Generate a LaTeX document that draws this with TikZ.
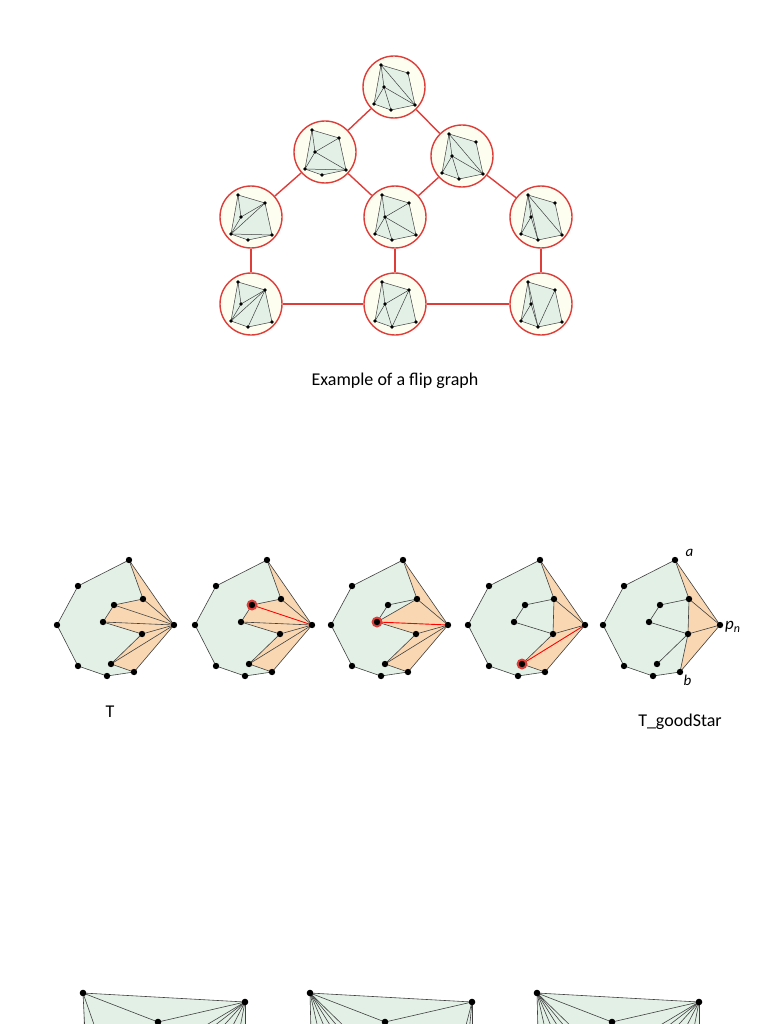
\documentclass[tikz,border=0pt]{standalone}
\usepackage{fontspec}
\setmainfont{Carlito}
\definecolor{gf}{RGB}{226,240,230}
\definecolor{of}{RGB}{248,215,178}
\definecolor{cf}{RGB}{253,253,240}
\definecolor{rl}{RGB}{222,62,58}
\begin{document}
\begin{tikzpicture}[x=1pt,y=-1pt,
  fcirc/.style={circle,draw=rl,fill=cf,line width=1.4pt,minimum size=62pt,inner sep=0pt},
  redline/.style={draw=rl,line width=1.4pt},
  gfill/.style={fill=gf},
  ofill/.style={fill=of},
  edge/.style={draw=black!75,line width=0.6pt},
  lab/.style={font=\fontsize{18}{18}\selectfont}]
\useasboundingbox (0,0) rectangle (768,1024);
\clip (0,0) rectangle (768,1024);
% ---------- flip graph ----------
\node[fcirc] (c1) at (394,87) {};
\node[fcirc] (c2) at (325,152) {};
\node[fcirc] (c3) at (462,156) {};
\node[fcirc] (c4) at (251,217) {};
\node[fcirc] (c5) at (395,217) {};
\node[fcirc] (c6) at (541,217) {};
\node[fcirc] (c7) at (251,304) {};
\node[fcirc] (c8) at (395,304) {};
\node[fcirc] (c9) at (541,304) {};
\foreach \u/\v in {c1/c2,c1/c3,c2/c4,c2/c5,c3/c5,c3/c6,c4/c7,c5/c8,c6/c9,c7/c8,c8/c9}
  \draw[redline] (\u)--(\v);
\newcommand\mytri[3]{%
\begin{scope}[shift={(#1,#2)}]
\coordinate (A) at (-13,-22); \coordinate (B) at (14,-14);
\coordinate (C) at (-10,0); \coordinate (D) at (-20,17);
\coordinate (E) at (-3,23); \coordinate (F) at (21,18);
\fill[gfill] (A)--(B)--(F)--(E)--(D)--cycle;
\draw[edge,line width=0.5pt] (A)--(B)--(F)--(E)--(D)--cycle;
\foreach \p/\q in {#3} \draw[edge,line width=0.5pt] (\p)--(\q);
\foreach \p in {A,B,C,D,E,F} \fill (\p) circle (1.8);
\end{scope}}
\mytri{394}{87}{A/F,C/A,C/F,C/D,C/E}
\mytri{325}{152}{C/A,C/B,C/D,C/F,D/F}
\mytri{462}{156}{A/F,C/A,C/F,C/D,C/E}
\mytri{251}{217}{C/A,C/B,C/D,B/D,D/F}
\mytri{395}{217}{C/A,C/B,C/D,C/E,C/F}
\mytri{541}{217}{A/F,A/E,C/A,C/E,C/D}
\mytri{251}{304}{C/A,C/B,C/D,B/D,B/E}
\mytri{395}{304}{C/A,C/B,C/D,C/E,B/E}
\mytri{541}{304}{A/E,B/E,C/A,C/E,C/D}
\node[lab] (cap1) at (395,381) {Example of a flip graph};
% ---------- row of polygons ----------
\newcommand\ppts{%
\coordinate (pn) at (0,0); \coordinate (a) at (-45,-65);
\coordinate (q1) at (-96,-39); \coordinate (q2) at (-117,0);
\coordinate (q3) at (-96,41); \coordinate (q4) at (-67,51);
\coordinate (b) at (-40,47);
\coordinate (i1) at (-31,-26); \coordinate (i2) at (-60,-20);
\coordinate (i3) at (-71,-3); \coordinate (i4) at (-32,9);
\coordinate (i5) at (-63,39);
\fill[gfill] (pn)--(a)--(q1)--(q2)--(q3)--(q4)--(b)--cycle;}
\newcommand\phull{\draw[edge] (pn)--(a)--(q1)--(q2)--(q3)--(q4)--(b)--cycle;}
\newcommand\pdots{\foreach \p in {pn,a,q1,q2,q3,q4,b,i1,i2,i3,i4,i5} \fill (\p) circle (3.2);}
% panel 1
\begin{scope}[shift={(174,625)}]
\ppts
\fill[ofill] (a)--(i1)--(i2)--(i3)--(i4)--(i5)--(b)--(pn)--cycle;
\draw[edge] (a)--(i1)--(i2)--(i3)--(i4)--(i5)--(b);
\foreach \p in {i1,i2,i3,i4,i5} \draw[edge] (pn)--(\p);
\phull\pdots
\end{scope}
% panel 2
\begin{scope}[shift={(312,625)}]
\ppts
\fill[ofill] (a)--(i1)--(i2)--(i3)--(i4)--(i5)--(b)--(pn)--cycle;
\draw[edge] (a)--(i1)--(i2)--(i3)--(i4)--(i5)--(b);
\foreach \p in {i1,i3,i4,i5} \draw[edge] (pn)--(\p);
\draw[red,line width=0.9pt] (pn)--(i2);
\phull\pdots
\fill[rl] (i2) circle (5.5); \fill (i2) circle (3.2);
\end{scope}
% panel 3
\begin{scope}[shift={(448,625)}]
\ppts
\fill[ofill] (a)--(i1)--(i3)--(i4)--(i5)--(b)--(pn)--cycle;
\draw[edge] (a)--(i1)--(i2)--(i3)--(i4)--(i5)--(b);
\draw[edge] (i1)--(i3);
\foreach \p in {i1,i4,i5} \draw[edge] (pn)--(\p);
\draw[red,line width=0.9pt] (pn)--(i3);
\phull\pdots
\fill[rl] (i3) circle (5.5); \fill (i3) circle (3.2);
\end{scope}
% panel 4
\begin{scope}[shift={(585,625)}]
\ppts
\fill[ofill] (a)--(i1)--(i4)--(i5)--(b)--(pn)--cycle;
\draw[edge] (a)--(i1)--(i2)--(i3)--(i4)--(i5)--(b);
\draw[edge] (i1)--(i4);
\foreach \p in {i1,i4} \draw[edge] (pn)--(\p);
\draw[red,line width=0.9pt] (pn)--(i5);
\phull\pdots
\fill[rl] (i5) circle (5.5); \fill (i5) circle (3.2);
\end{scope}
% panel 5
\begin{scope}[shift={(720,625)}]
\ppts
\fill[ofill] (a)--(i1)--(i4)--(b)--(pn)--cycle;
\draw[edge] (a)--(i1)--(i2)--(i3)--(i4)--(i5);
\draw[edge] (i1)--(i4)--(b);
\foreach \p in {i1,i4} \draw[edge] (pn)--(\p);
\phull\pdots
\node[font=\itshape\fontsize{15}{15}\selectfont,anchor=west] (la) at (-38,-72) {a};
\node[font=\fontsize{17}{17}\selectfont,anchor=west,inner sep=1pt] (lpn) at (4,2) {\textit{p}\raisebox{-3pt}{\fontsize{12}{12}\selectfont\itshape n}};
\node[font=\itshape\fontsize{15}{15}\selectfont,anchor=west] (lb) at (-40,55) {b};
\end{scope}
\node[lab] (lT) at (110,712) {T};
\node[lab] (lTg) at (680,722) {T\_goodStar};
% ---------- bottom row ----------
\newcommand\pbot[3]{%
\begin{scope}[shift={(#1,993)}]
\coordinate (L) at (0,0); \coordinate (R) at (162,9); \coordinate (M) at (75,29);
\fill[gfill] (L)--(R)--(162,40)--(0,40)--cycle;
\draw[edge] (L)--(R); \draw[edge] (L)--(M)--(R); \draw[edge] (R)--(162,40);
\foreach \x in {#2} \draw[edge] (L)--(\x,40);
\foreach \x in {#3} \draw[edge] (R)--(\x,40);
\fill (L) circle (3.3); \fill (R) circle (3.3); \fill (M) circle (3.3);
\end{scope}}
\pbot{83}{2,14}{110,122,134,146,156}
\pbot{310}{1,9,17,25,33,41}{154,159}
\pbot{537}{1,9,17,25,33,41}{110,122,134,146,156}
\end{tikzpicture}
\end{document}
